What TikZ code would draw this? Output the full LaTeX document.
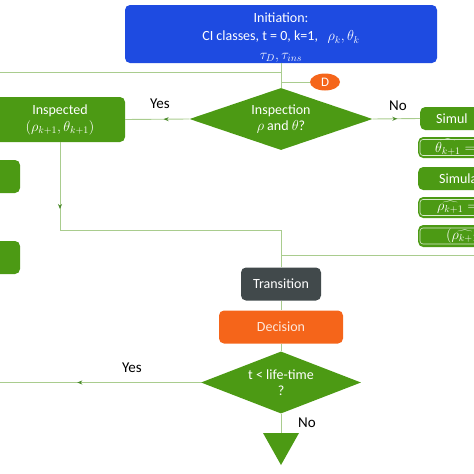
\documentclass[tikz,border=0pt]{standalone}
\usepackage{fontspec}
\setmainfont{Carlito}
\usetikzlibrary{shapes.geometric,arrows.meta,decorations.markings}
\definecolor{cblue}{HTML}{1E4BE1}
\definecolor{cgreen}{HTML}{4C9A14}
\definecolor{corange}{HTML}{F5651A}
\definecolor{cgray}{HTML}{41494B}
\definecolor{cline}{HTML}{A9CC8E}
\definecolor{carrow}{HTML}{4A8A2A}
\tikzset{
  box/.style={rectangle, rounded corners=5pt, inner sep=0pt, text=white, font=\fontsize{14}{19}\selectfont, align=center},
  gbox/.style={box, fill=cgreen},
  rbox/.style={gbox, anchor=west, align=left, font=\fontsize{14}{16}\selectfont},
  dia/.style={diamond, fill=cgreen, inner sep=0pt, text=white, font=\fontsize{14}{16.5}\selectfont, align=center},
  conn/.style={draw=cline, line width=0.9pt},
  lbl/.style={font=\fontsize{15}{17}\selectfont, text=black},
  midarr/.style={postaction={decorate}, decoration={markings, mark=at position #1 with {\arrow[carrow]{Stealth[length=5pt,width=4pt]}}}},
  inset/.style={draw=white!80!cgreen, line width=0.6pt, rounded corners=3pt}
}
\begin{document}
\begin{tikzpicture}[x=1pt,y=-1pt]
\useasboundingbox (0,0) rectangle (474,474);
\clip (0,0) rectangle (474,474);

% nodes
\node[box, fill=cblue, minimum width=312, minimum height=58] (init) at (281,34) {};
\node[box, font=\fontsize{14}{18.5}\selectfont] (initt) at (281,37.5)
  {Initiation:\\CI classes, t = 0, k=1, \ \ $\rho_k,\theta_k$\\$\tau_D,\tau_{ins}$};
\node[ellipse, fill=corange, minimum width=30, minimum height=17, inner sep=0pt, text=white, font=\fontsize{13}{15}\selectfont] (D) at (325,82) {D};
\node[dia, minimum width=183, minimum height=62, aspect=2.95] (insp) at (281,119) {Inspection\\$\rho$ and $\theta$?};
\node[gbox, minimum width=130, minimum height=45] (ins) at (60,119.5) {\raisebox{-2pt}{Inspected}\\$(\rho_{k+1},\theta_{k+1})$};
\node[gbox, minimum width=40, minimum height=33] (l1) at (0,176.5) {};
\node[gbox, minimum width=40, minimum height=33] (l2) at (0,257.5) {};

% right boxes (cut off)
\node[rbox, minimum width=70, minimum height=23, text width=62] (r1) at (420,118.5) {\hspace*{12pt}Simul};
\node[rbox, minimum width=72, minimum height=21, text width=64] (r2) at (418,147.5) {\hspace*{13pt}$\widehat{\theta_{k+1}}=$};
\draw[inset] (420,139.5) rectangle (500,155.5);
\node[rbox, minimum width=72, minimum height=23, text width=64] (r3) at (418,178.5) {\hspace*{17pt}Simula};
\node[rbox, minimum width=72, minimum height=21, text width=64] (r4) at (418,207.5) {\hspace*{15pt}$\widehat{\rho_{k+1}}=$};
\draw[inset] (420,199.5) rectangle (500,215.5);
\node[rbox, minimum width=72, minimum height=22, text width=64] (r5) at (418,236) {\hspace*{24pt}$(\widehat{\rho_{k+1}}$};
\draw[inset] (420,228) rectangle (500,244);

\node[box, fill=cgray, minimum width=80, minimum height=33] (trans) at (281,284) {Transition};
\node[box, fill=corange, minimum width=124, minimum height=33, text=white!85!corange] (dec) at (281,327) {Decision};
\node[dia, minimum width=160, minimum height=62, aspect=2.58] (life) at (281,382.5) {t < life-time\\?};

\coordinate (tl) at (263,433);
\coordinate (tr) at (299,433);
\coordinate (tb) at (281,465);
\coordinate (tt) at (281,433);
\fill[cgreen] (tl) -- (tr) -- (tb) -- cycle;

% coordinates for edges
\coordinate (j1) at (281,72);
\coordinate (j1l) at (0,72);
\coordinate (jd) at (281,82);
\coordinate (c1) at (60,209);
\coordinate (c2) at (60,230);
\coordinate (c3) at (281,230);
\coordinate (rr) at (474,255);
\coordinate (rj) at (281,255);
\coordinate (ll) at (0,382.5);

% connectors
\draw[conn] (init.south) -- (insp.north);
\draw[conn] (j1) -- (j1l);
\draw[conn] (jd) -- (D.west);
\draw[conn, midarr=0.4] (insp.west) -- (ins.east);
\draw[conn, midarr=0.52] (insp.east) -- (r1.west);
\draw[conn, midarr=1] (ins.south) -- (c1);
\draw[conn] (c1) -- (c2) -- (c3) -- (trans.north);
\draw[conn] (rr) -- (rj);
\draw[conn] (trans.south) -- (dec.north);
\draw[conn] (dec.south) -- (life.north);
\draw[conn, midarr=0.615] (life.west) -- (ll);
\draw[conn] (life.south) -- (tt);

% labels
\node[lbl] (yes1) at (160,104) {Yes};
\node[lbl] (no1) at (398,106) {No};
\node[lbl] (yes2) at (132,368) {Yes};
\node[lbl] (no2) at (307,423) {No};
\end{tikzpicture}
\end{document}
